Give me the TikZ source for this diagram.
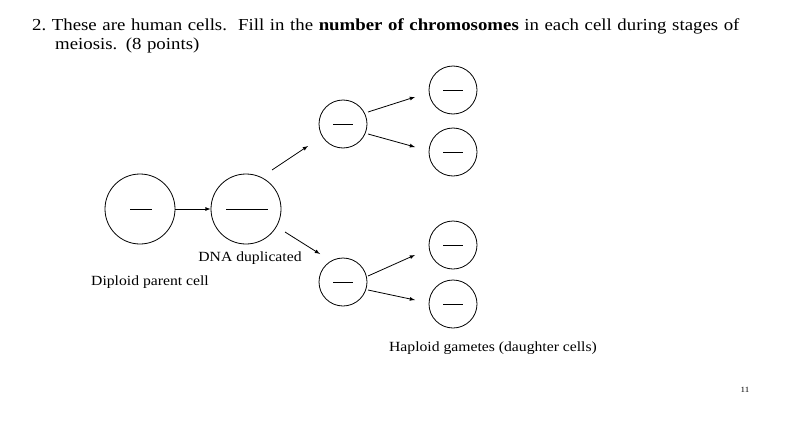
\documentclass[tikz,border=0pt]{standalone}
\usepackage{fontspec}
\setmainfont{Liberation Serif}[FakeStretch=1.12]
\begin{document}
\begin{tikzpicture}[x=1pt,y=-1pt,
  big/.style={circle,draw,line width=0.8pt,minimum size=70pt,inner sep=0pt},
  small/.style={circle,draw,line width=0.8pt,minimum size=48pt,inner sep=0pt},
  arr/.style={-latex,line width=0.8pt},
  lab/.style={font=\fontsize{14}{17}\selectfont}]
\useasboundingbox (0,0) rectangle (791,436);
\node[anchor=north west,align=left,text width=740pt,inner sep=0pt,font=\fontsize{16.8}{19}\selectfont] (hdr) at (32,18)
 {2.\ These are human cells.\ \ Fill in the \textbf{number of chromosomes} in each cell during stages of\\
 \hspace*{23pt}meiosis. (8 points)};
\node[big] (c1) at (140,209) {};
\node[big] (c2) at (246,209) {};
\node[small] (u) at (343,124) {};
\node[small] (l) at (343,282) {};
\node[small] (r1) at (453,90) {};
\node[small] (r2) at (453,152) {};
\node[small] (r3) at (453,245) {};
\node[small] (r4) at (453,304) {};
\draw (130,209)--(152,209) (226,209)--(268,209);
\foreach \n in {u,l,r1,r2,r3,r4}{\draw ([xshift=-10pt]\n.center)--([xshift=10pt]\n.center);}
\draw[arr] (c1.east) -- (c2.west);
\draw[arr] (272,170) -- (308,146);
\draw[arr] (285,232) -- (320,254);
\draw[arr] (368,112) -- (415,97);
\draw[arr] (368,134) -- (415,147);
\draw[arr] (368,276) -- (415,255);
\draw[arr] (368,290) -- (415,300);
\node[lab] (t1) at (250,258) {DNA duplicated};
\node[lab] (t2) at (150,282) {Diploid parent cell};
\node[lab] (t3) at (493,348) {Haploid gametes (daughter cells)};
\node[font=\fontsize{8}{9}\selectfont] (pg) at (745,390) {11};
\end{tikzpicture}
\end{document}
